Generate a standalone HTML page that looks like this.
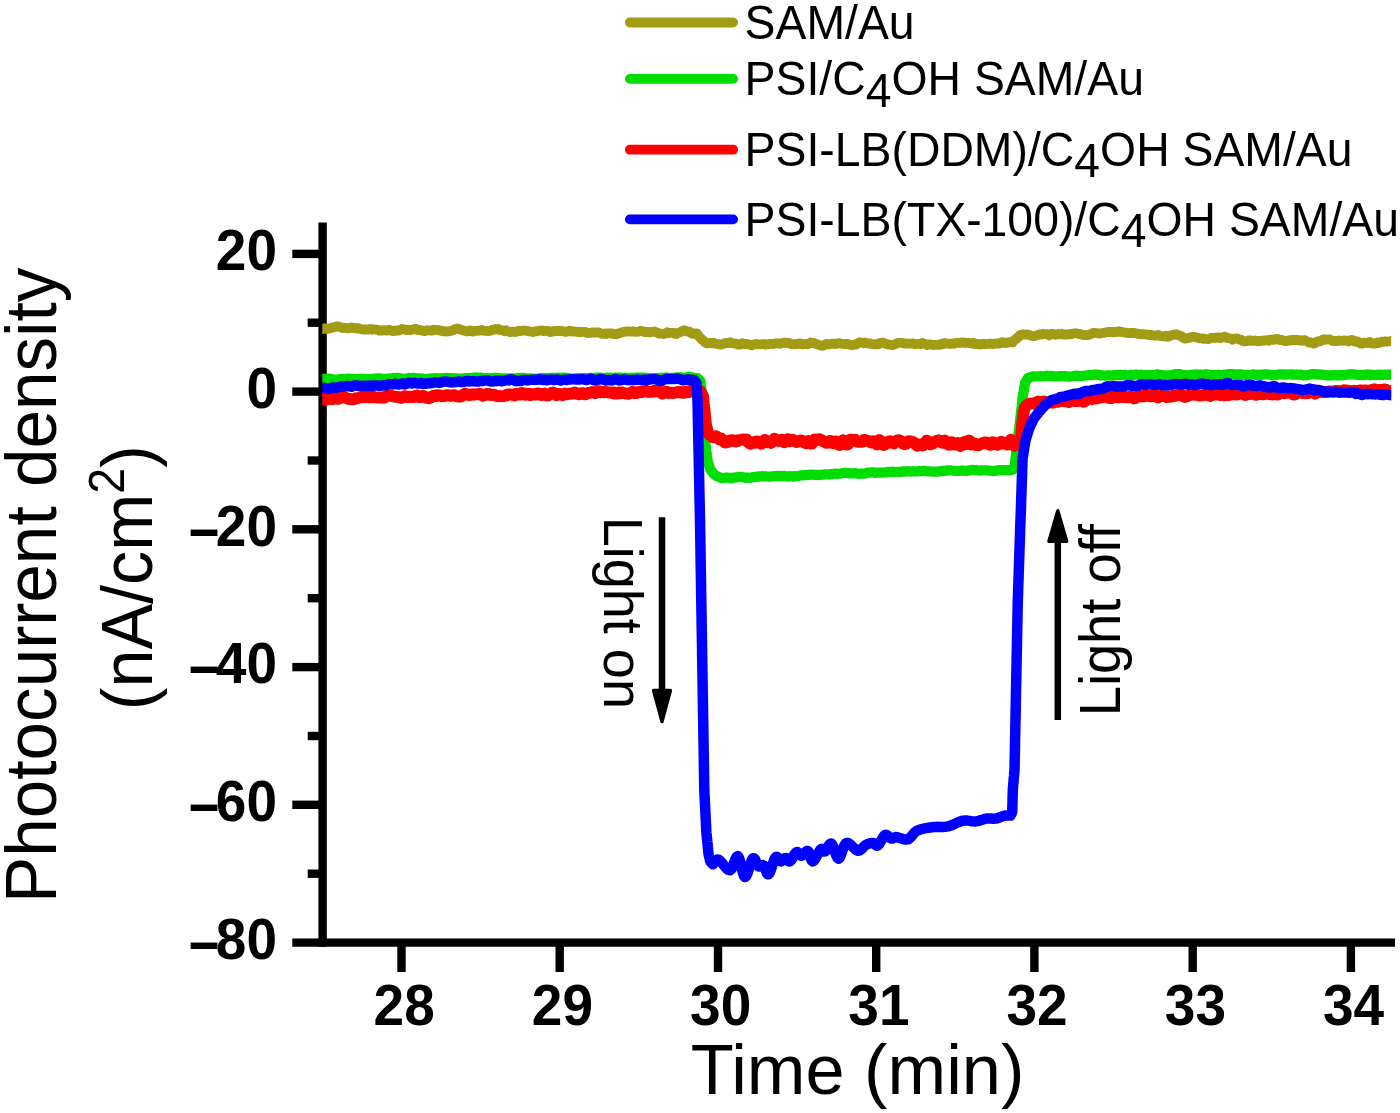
<!DOCTYPE html>
<html lang="en"><head><meta charset="utf-8"><title>Photocurrent density vs time</title>
<style>html,body{margin:0;padding:0;background:#fff}body{width:1400px;height:1113px;overflow:hidden}svg{display:block}text{font-family:"Liberation Sans",Arial,Helvetica,sans-serif;fill:#000}.b{font-weight:700;font-size:55px}.lg{font-size:46px}.ax{font-size:69px}.an{font-size:54px}</style></head><body>
<svg width="1400" height="1113" viewBox="0 0 1400 1113">
<rect width="1400" height="1113" fill="#fff"/>
<g stroke="#000" stroke-width="8.4" fill="none">
<line x1="322.6" y1="222.4" x2="322.6" y2="946.8"/>
<line x1="292.3" y1="942.6" x2="1395" y2="942.6"/>
<line x1="292.3" y1="253.9" x2="320" y2="253.9"/>
<line x1="292.3" y1="391.6" x2="320" y2="391.6"/>
<line x1="292.3" y1="529.3" x2="320" y2="529.3"/>
<line x1="292.3" y1="667.1" x2="320" y2="667.1"/>
<line x1="292.3" y1="804.8" x2="320" y2="804.8"/>
<line x1="307.7" y1="322.7" x2="320" y2="322.7"/>
<line x1="307.7" y1="460.5" x2="320" y2="460.5"/>
<line x1="307.7" y1="598.2" x2="320" y2="598.2"/>
<line x1="307.7" y1="736.0" x2="320" y2="736.0"/>
<line x1="307.7" y1="873.7" x2="320" y2="873.7"/>
<line x1="401.5" y1="940" x2="401.5" y2="972"/>
<line x1="559.7" y1="940" x2="559.7" y2="972"/>
<line x1="718.0" y1="940" x2="718.0" y2="972"/>
<line x1="876.2" y1="940" x2="876.2" y2="972"/>
<line x1="1034.4" y1="940" x2="1034.4" y2="972"/>
<line x1="1192.7" y1="940" x2="1192.7" y2="972"/>
<line x1="1350.9" y1="940" x2="1350.9" y2="972"/>
</g>
<defs><clipPath id="plotclip"><rect x="322.3" y="200" width="1068.9" height="730"/></clipPath></defs>
<g clip-path="url(#plotclip)" fill="none" stroke-linejoin="round" stroke-linecap="butt" stroke-width="10.5">
<polyline stroke="#a49b14" stroke-width="9.8" points="316.0,327.9 317.6,328.1 319.3,328.5 321.0,329.0 322.6,329.1 324.2,328.2 325.8,328.5 327.3,329.1 328.9,328.4 330.5,328.2 332.1,327.5 333.7,327.4 335.3,326.7 336.8,326.4 338.4,326.5 340.0,326.9 341.5,327.7 343.0,328.1 344.5,327.9 346.0,327.8 347.5,328.3 349.1,328.2 350.6,327.6 352.1,327.5 353.6,328.1 355.1,328.0 356.6,328.5 358.1,328.1 359.6,328.7 361.1,329.3 362.6,329.4 364.2,329.7 365.7,329.4 367.2,329.7 368.7,329.3 370.2,329.0 371.7,329.8 373.2,329.2 374.7,329.5 376.2,329.6 377.7,329.8 379.2,330.6 380.8,330.4 382.3,330.5 383.8,330.2 385.3,330.4 386.8,330.6 388.3,330.1 389.8,329.8 391.3,330.6 392.8,331.1 394.3,330.6 395.8,330.8 397.4,330.4 398.9,330.5 400.4,329.8 401.9,329.0 403.4,329.2 404.9,329.5 406.4,330.1 407.9,329.6 409.4,329.8 410.9,330.2 412.5,329.6 414.0,329.1 415.5,328.6 417.0,329.6 418.5,330.2 420.0,329.8 421.5,330.5 423.0,330.6 424.5,331.2 426.0,330.6 427.5,330.2 429.1,330.5 430.6,330.6 432.1,330.7 433.6,329.7 435.1,329.9 436.6,329.8 438.1,330.1 439.6,330.5 441.1,330.6 442.6,331.3 444.2,331.2 445.7,331.7 447.2,331.3 448.7,331.3 450.2,330.8 451.7,330.7 453.2,330.2 454.7,329.1 456.2,329.0 457.7,328.4 459.2,329.0 460.8,329.7 462.3,330.1 463.8,330.7 465.3,330.9 466.8,331.4 468.3,331.3 469.8,330.4 471.3,331.0 472.8,331.5 474.3,331.0 475.8,330.8 477.4,330.9 478.9,330.6 480.4,330.4 481.9,329.9 483.4,330.7 484.9,330.8 486.4,330.9 487.9,331.1 489.4,330.9 490.9,330.5 492.5,329.7 494.0,329.8 495.5,329.0 497.0,329.6 498.5,328.9 500.0,330.0 501.5,330.2 503.0,330.3 504.5,331.2 506.1,330.3 507.6,331.5 509.1,331.8 510.6,332.1 512.1,331.7 513.6,331.6 515.2,331.8 516.7,331.8 518.2,331.0 519.7,331.1 521.2,330.9 522.7,330.7 524.2,330.6 525.8,330.7 527.3,330.9 528.8,331.3 530.3,331.6 531.8,331.6 533.3,332.0 534.8,331.3 536.4,331.4 537.9,330.9 539.4,330.8 540.9,330.5 542.4,330.3 543.9,331.2 545.5,331.0 547.0,330.7 548.5,331.0 550.0,332.1 551.5,331.9 553.0,331.1 554.5,331.2 556.1,330.9 557.6,331.1 559.1,330.6 560.6,331.2 562.1,331.0 563.6,331.4 565.2,331.9 566.7,331.6 568.2,331.2 569.7,330.7 571.2,331.5 572.7,331.2 574.2,331.5 575.8,331.6 577.3,331.8 578.8,332.1 580.3,331.9 581.8,332.0 583.3,331.8 584.8,331.8 586.4,332.5 587.9,333.0 589.4,332.9 590.9,332.8 592.4,332.3 593.9,332.7 595.5,332.6 597.0,332.3 598.5,332.4 600.0,333.0 601.5,333.8 603.0,333.8 604.5,333.3 606.0,334.0 607.5,333.3 609.0,333.4 610.5,333.3 612.0,333.3 613.5,334.2 615.0,334.2 616.5,334.3 618.0,333.3 619.5,333.4 621.0,332.7 622.5,332.0 624.0,331.8 625.5,331.6 627.0,331.5 628.5,331.3 630.0,331.7 631.5,331.7 633.0,331.4 634.5,331.7 636.0,331.9 637.5,331.8 639.0,331.4 640.5,330.9 642.0,331.1 643.5,331.4 645.0,332.2 646.5,331.9 648.0,332.1 649.5,332.3 651.0,331.8 652.5,331.9 654.0,331.5 655.5,332.0 657.0,332.4 658.5,333.6 660.0,333.5 661.5,333.7 663.0,334.0 664.5,333.9 666.0,333.2 667.5,332.3 669.0,333.1 670.5,332.8 672.0,332.9 673.5,332.8 675.0,333.8 676.5,334.0 678.0,332.9 679.5,332.7 681.0,331.9 682.5,330.8 684.0,330.2 685.5,330.7 687.0,331.6 688.5,331.4 690.0,331.9 691.8,333.6 693.5,333.9 695.2,333.5 697.0,333.5 698.3,335.3 699.7,337.4 701.0,338.6 702.2,339.9 703.5,340.7 704.8,342.2 706.0,343.1 707.5,343.4 709.0,342.8 710.5,342.9 712.0,343.4 713.5,342.7 715.0,343.6 716.6,343.8 718.1,344.1 719.6,344.5 721.1,344.6 722.6,344.1 724.1,343.5 725.7,343.0 727.2,343.2 728.7,342.5 730.2,342.2 731.7,343.2 733.2,343.5 734.8,343.7 736.3,343.7 737.8,344.7 739.3,344.6 740.8,344.5 742.3,343.3 743.9,343.8 745.4,344.2 746.9,343.9 748.4,344.4 749.9,344.6 751.4,345.4 753.0,344.7 754.5,344.3 756.0,343.9 757.5,344.3 759.0,344.4 760.6,344.3 762.1,344.2 763.6,344.0 765.1,344.6 766.6,344.3 768.1,344.1 769.7,344.0 771.2,343.8 772.7,344.0 774.2,343.7 775.7,343.4 777.2,343.3 778.8,343.3 780.3,343.8 781.8,343.2 783.3,342.8 784.8,342.6 786.3,343.0 787.9,342.8 789.4,343.0 790.9,344.2 792.4,344.2 793.9,344.3 795.4,344.0 797.0,344.3 798.5,343.7 800.0,343.3 801.5,344.2 803.0,344.4 804.5,344.2 806.1,343.8 807.6,344.3 809.1,343.7 810.6,342.5 812.1,343.1 813.6,342.8 815.2,343.6 816.7,344.1 818.2,344.7 819.7,345.3 821.2,345.6 822.7,345.8 824.2,345.2 825.8,344.1 827.3,344.0 828.8,344.4 830.3,344.0 831.8,343.7 833.3,343.6 834.8,343.9 836.4,344.0 837.9,343.4 839.4,343.1 840.9,343.6 842.4,343.8 843.9,344.0 845.5,344.0 847.0,344.0 848.5,344.1 850.0,344.7 851.5,345.1 853.0,345.1 854.5,344.4 856.1,344.6 857.6,343.6 859.1,342.4 860.6,342.5 862.1,342.7 863.6,343.3 865.2,342.5 866.7,343.1 868.2,343.4 869.7,343.3 871.2,343.9 872.7,344.1 874.2,344.4 875.8,344.1 877.3,344.4 878.8,344.1 880.3,342.8 881.8,342.7 883.3,342.6 884.8,343.5 886.4,343.9 887.9,344.4 889.4,344.7 890.9,344.8 892.4,345.2 893.9,344.6 895.5,344.1 897.0,343.2 898.5,342.8 900.0,342.9 901.5,342.9 903.0,343.1 904.5,343.6 906.0,343.5 907.5,343.7 909.0,343.5 910.5,343.7 912.0,343.5 913.5,343.5 915.0,344.2 916.5,344.1 918.0,343.7 919.5,343.8 921.0,344.1 922.5,343.0 924.0,343.4 925.5,344.1 927.0,345.0 928.5,344.6 930.0,344.3 931.5,344.6 933.0,345.0 934.5,344.7 936.0,344.8 937.5,344.7 939.0,344.9 940.5,344.7 942.0,343.6 943.5,344.0 945.0,342.9 946.5,343.6 948.0,343.6 949.5,343.9 951.0,343.8 952.5,343.3 954.0,343.8 955.5,343.1 957.0,342.7 958.5,343.0 960.0,342.8 961.5,342.4 963.0,342.4 964.5,343.0 966.0,342.7 967.5,342.8 969.0,343.0 970.5,343.1 972.0,343.5 973.5,342.9 975.0,344.1 976.5,343.8 978.0,344.2 979.5,344.5 981.0,343.8 982.5,344.3 984.0,343.6 985.5,344.2 987.0,344.0 988.5,343.7 990.0,343.9 991.5,343.7 993.0,344.1 994.5,343.6 996.0,343.6 997.5,343.3 999.0,343.6 1000.5,343.2 1002.0,342.1 1003.5,342.4 1005.0,342.9 1006.5,343.0 1008.0,342.3 1009.7,342.2 1011.3,342.3 1013.0,342.3 1014.0,340.4 1015.0,339.6 1016.0,339.1 1017.3,337.7 1018.7,337.0 1020.0,335.1 1021.5,334.8 1023.0,334.2 1024.5,334.6 1026.0,334.6 1027.5,334.5 1029.1,334.9 1030.6,335.4 1032.2,336.1 1033.7,336.2 1035.3,335.9 1036.8,335.2 1038.4,334.8 1039.9,334.2 1041.5,334.5 1043.0,334.0 1044.5,334.1 1046.1,334.1 1047.6,334.4 1049.2,335.4 1050.7,334.0 1052.3,333.9 1053.8,333.9 1055.4,334.8 1056.9,334.5 1058.5,333.9 1060.0,334.4 1061.5,333.7 1063.1,334.6 1064.6,334.5 1066.2,334.7 1067.7,334.4 1069.2,334.2 1070.8,334.4 1072.3,333.8 1073.8,333.4 1075.4,333.4 1076.9,333.3 1078.5,333.9 1080.0,334.0 1081.5,334.4 1083.1,335.1 1084.6,335.1 1086.2,335.1 1087.7,335.1 1089.2,334.8 1090.8,334.0 1092.3,333.2 1093.8,332.8 1095.4,333.2 1096.9,333.2 1098.5,333.4 1100.0,333.6 1101.7,333.2 1103.3,333.0 1105.0,332.5 1106.7,332.2 1108.3,332.0 1110.0,331.9 1111.5,331.8 1113.0,332.3 1114.5,331.9 1116.0,332.0 1117.5,331.9 1119.0,331.1 1120.5,331.8 1122.0,331.9 1123.5,332.4 1125.0,332.6 1126.5,332.7 1128.0,333.2 1129.5,333.1 1131.0,332.9 1132.5,333.1 1134.0,332.9 1135.5,333.2 1137.0,333.7 1138.5,333.9 1140.0,334.0 1141.5,334.3 1143.0,334.2 1144.6,334.3 1146.1,334.4 1147.6,334.7 1149.1,335.1 1150.6,334.7 1152.1,335.3 1153.7,335.5 1155.2,335.6 1156.7,335.7 1158.2,335.0 1159.7,335.6 1161.2,336.2 1162.8,336.4 1164.3,336.4 1165.8,335.8 1167.3,336.9 1168.8,336.7 1170.3,335.3 1171.9,335.2 1173.4,334.6 1174.9,334.8 1176.4,334.2 1177.9,334.9 1179.4,335.8 1181.0,335.8 1182.5,337.2 1184.0,338.3 1185.5,338.6 1187.0,338.1 1188.6,337.9 1190.1,337.6 1191.6,337.1 1193.1,336.8 1194.6,336.9 1196.1,337.5 1197.7,337.8 1199.2,338.1 1200.7,338.3 1202.2,338.4 1203.7,338.9 1205.2,338.7 1206.8,339.0 1208.3,339.2 1209.8,338.7 1211.3,337.9 1212.8,337.8 1214.3,337.7 1215.9,338.0 1217.4,337.3 1218.9,337.6 1220.4,338.1 1221.9,337.6 1223.4,336.8 1225.0,336.7 1226.5,337.8 1228.0,338.1 1229.5,338.2 1231.0,338.5 1232.5,339.7 1234.0,338.8 1235.5,338.4 1237.0,338.5 1238.5,339.0 1240.0,339.7 1241.5,339.9 1243.0,341.1 1244.5,341.3 1246.0,341.4 1247.5,341.0 1249.0,340.3 1250.5,340.3 1252.0,340.9 1253.5,340.8 1255.0,340.5 1256.5,340.8 1258.0,341.4 1259.5,341.0 1261.0,340.9 1262.5,340.6 1264.0,340.6 1265.5,340.4 1267.0,340.2 1268.5,340.7 1270.0,339.6 1271.5,339.6 1273.0,339.8 1274.5,339.7 1276.0,338.8 1277.5,338.8 1279.0,339.6 1280.5,340.2 1282.0,339.9 1283.5,340.6 1285.0,341.1 1286.5,341.2 1288.0,340.7 1289.5,340.2 1291.0,340.5 1292.5,339.8 1294.0,340.2 1295.5,339.9 1297.0,339.9 1298.5,340.3 1300.0,340.1 1301.5,340.8 1303.0,340.3 1304.5,340.0 1306.1,340.9 1307.6,341.7 1309.1,342.7 1310.6,342.4 1312.1,342.7 1313.7,343.5 1315.2,343.0 1316.7,341.8 1318.2,341.1 1319.7,341.3 1321.2,340.9 1322.8,339.7 1324.3,339.2 1325.8,339.8 1327.3,339.5 1328.8,339.3 1330.3,339.7 1331.8,340.6 1333.4,341.1 1334.9,341.0 1336.4,341.0 1337.9,340.9 1339.4,340.5 1341.0,340.7 1342.5,340.8 1344.0,340.4 1345.5,340.6 1347.0,340.7 1348.5,341.4 1350.0,340.4 1351.6,340.0 1353.1,340.1 1354.6,341.3 1356.1,341.8 1357.6,341.5 1359.2,342.4 1360.7,343.6 1362.2,343.7 1363.7,342.6 1365.2,342.7 1366.7,342.9 1368.2,343.0 1369.8,342.0 1371.3,342.8 1372.8,343.7 1374.3,343.4 1375.8,343.5 1377.3,342.5 1378.9,343.0 1380.4,342.2 1381.9,341.7 1383.4,341.8 1384.9,341.4 1386.5,341.6 1388.0,341.5 1389.5,341.3 1391.0,341.0 1392.5,340.5 1394.0,340.6 1395.5,340.3 1397.0,340.7"/>
<polyline stroke="#00dd00" stroke-width="10.2" points="316.0,378.5 317.6,378.6 319.3,378.6 321.0,378.8 322.6,378.8 324.1,378.9 325.6,378.7 327.2,378.5 328.7,378.5 330.2,378.8 331.7,379.2 333.2,379.4 334.7,379.8 336.3,379.7 337.8,379.6 339.3,379.3 340.8,379.1 342.3,378.9 343.8,379.1 345.4,378.8 346.9,378.8 348.4,378.6 349.9,378.6 351.4,378.9 353.0,378.9 354.5,378.9 356.0,379.1 357.5,379.3 359.0,378.8 360.5,378.8 362.1,378.9 363.6,378.9 365.1,378.8 366.6,379.2 368.1,379.1 369.6,379.0 371.2,378.8 372.7,379.0 374.2,378.5 375.7,378.5 377.2,378.4 378.8,378.6 380.3,378.4 381.8,378.9 383.3,378.8 384.8,378.9 386.3,378.8 387.9,378.6 389.4,378.5 390.9,378.6 392.4,378.1 393.9,378.1 395.4,378.0 397.0,377.8 398.5,378.0 400.0,378.3 401.5,378.6 403.0,378.8 404.5,378.7 406.1,378.5 407.6,378.3 409.1,377.9 410.6,378.0 412.1,378.1 413.6,377.9 415.2,378.1 416.7,378.3 418.2,378.3 419.7,378.4 421.2,378.8 422.7,378.7 424.2,378.8 425.8,378.8 427.3,378.9 428.8,378.8 430.3,378.6 431.8,378.4 433.3,378.3 434.8,378.3 436.4,378.0 437.9,378.5 439.4,378.5 440.9,378.3 442.4,378.1 443.9,378.2 445.5,378.0 447.0,377.8 448.5,378.0 450.0,378.2 451.5,378.3 453.0,378.2 454.5,378.3 456.1,378.4 457.6,378.9 459.1,378.6 460.6,378.7 462.1,378.5 463.6,378.5 465.2,378.0 466.7,378.0 468.2,378.1 469.7,378.1 471.2,377.8 472.7,377.9 474.2,377.6 475.8,377.4 477.3,377.5 478.8,377.7 480.3,377.7 481.8,377.7 483.3,377.9 484.8,378.0 486.4,378.1 487.9,378.1 489.4,378.2 490.9,378.4 492.4,378.2 493.9,377.9 495.5,377.8 497.0,378.1 498.5,378.1 500.0,378.3 501.5,378.4 503.0,378.7 504.5,378.4 506.1,378.3 507.6,378.5 509.1,378.7 510.6,378.4 512.1,378.5 513.6,378.6 515.2,378.4 516.7,378.2 518.2,378.0 519.7,378.0 521.2,377.9 522.7,377.8 524.2,378.0 525.8,378.3 527.3,378.5 528.8,378.3 530.3,378.4 531.8,378.5 533.3,378.6 534.8,378.5 536.4,378.7 537.9,378.8 539.4,378.3 540.9,378.2 542.4,378.2 543.9,378.3 545.5,378.0 547.0,378.2 548.5,378.1 550.0,378.1 551.5,377.9 553.0,377.8 554.5,377.8 556.1,377.9 557.6,377.8 559.1,377.7 560.6,378.0 562.1,377.8 563.6,377.7 565.2,377.7 566.7,377.9 568.2,378.1 569.7,378.6 571.2,378.5 572.7,378.8 574.2,378.6 575.8,378.3 577.3,378.2 578.8,378.1 580.3,378.1 581.8,378.1 583.3,378.2 584.8,378.0 586.4,378.1 587.9,378.0 589.4,378.1 590.9,377.9 592.4,378.0 593.9,378.0 595.5,377.6 597.0,377.6 598.5,377.7 600.0,377.7 601.5,377.8 603.0,378.2 604.5,378.0 606.0,377.8 607.5,377.7 609.0,377.9 610.5,377.6 612.0,377.8 613.5,377.8 615.0,377.7 616.5,377.7 618.0,377.8 619.5,377.5 621.0,377.5 622.5,377.8 624.0,377.8 625.5,377.7 627.0,378.0 628.5,378.1 630.0,377.9 631.5,377.8 633.0,377.8 634.5,377.7 636.0,377.5 637.5,377.6 639.0,377.6 640.5,377.5 642.0,377.5 643.5,377.7 645.0,377.8 646.5,377.9 648.0,378.1 649.5,378.3 651.0,378.4 652.5,378.3 654.0,378.3 655.5,378.0 657.0,378.2 658.5,378.1 660.0,378.0 661.5,377.7 663.0,377.8 664.5,377.7 666.0,377.5 667.5,377.8 669.0,378.0 670.5,378.0 672.0,377.9 673.5,377.9 675.0,377.6 676.5,377.6 678.0,377.4 679.5,377.5 681.0,377.3 682.5,377.5 684.0,377.5 685.5,377.5 687.0,377.2 688.5,377.0 690.0,377.2 691.5,377.2 693.0,377.5 694.5,377.7 696.0,378.1 697.5,378.2 699.0,379.7 700.5,381.2 700.7,382.9 700.8,384.3 701.0,385.8 701.2,387.4 701.3,388.8 701.5,390.1 701.7,391.9 701.8,393.4 702.0,395.0 702.1,396.5 702.2,398.2 702.3,399.7 702.4,401.2 702.5,403.0 702.6,404.8 702.7,406.5 702.8,408.2 702.8,409.7 702.9,410.9 703.0,412.5 703.1,413.8 703.2,415.2 703.3,416.9 703.4,418.2 703.5,419.7 703.6,420.9 703.8,422.5 703.9,424.0 704.0,425.7 704.1,427.3 704.2,429.2 704.4,430.5 704.5,431.9 704.6,433.5 704.8,434.8 704.9,436.1 705.0,438.1 705.1,439.8 705.2,441.6 705.4,443.3 705.5,445.0 705.7,446.2 705.9,447.9 706.1,449.4 706.3,451.3 706.5,452.8 706.7,454.4 706.9,455.7 707.1,457.2 707.3,458.5 707.5,460.0 708.0,461.7 708.5,463.7 709.0,465.0 709.5,466.7 710.0,468.4 710.5,470.0 711.5,470.9 712.5,472.4 713.5,473.5 714.5,474.6 716.1,475.7 717.8,476.6 719.4,477.1 721.0,477.8 722.8,477.9 724.5,477.8 726.2,477.6 728.0,477.7 729.5,477.9 731.0,478.1 732.5,477.8 734.0,477.7 735.5,477.6 737.0,477.3 738.5,476.8 740.0,476.9 741.5,476.9 743.0,477.2 744.5,477.5 746.0,477.9 747.5,477.6 749.0,477.8 750.5,477.8 752.0,477.4 753.5,477.0 755.0,477.1 756.5,476.7 758.0,476.7 759.5,476.4 761.0,476.3 762.5,476.2 764.0,476.4 765.5,476.2 767.0,476.5 768.5,476.6 770.0,476.7 771.5,476.4 773.0,476.3 774.5,476.1 776.0,476.1 777.5,475.9 779.0,476.1 780.5,475.9 782.0,476.1 783.5,476.1 785.0,475.9 786.5,476.2 788.0,476.6 789.5,476.2 791.0,476.2 792.5,476.6 794.0,476.4 795.5,476.0 797.0,476.1 798.5,476.0 800.0,475.5 801.5,475.3 803.0,475.3 804.5,475.2 806.0,475.1 807.5,474.9 809.0,474.9 810.5,474.6 812.0,474.6 813.5,474.8 815.0,474.9 816.5,474.9 818.0,475.1 819.5,475.0 821.0,474.8 822.5,474.6 824.0,474.6 825.5,474.3 827.0,474.5 828.5,474.4 830.0,474.3 831.5,474.1 833.0,474.0 834.5,473.8 836.0,473.6 837.5,473.9 839.0,473.7 840.5,473.5 842.0,473.3 843.5,473.0 845.0,472.8 846.5,473.0 848.0,473.3 849.5,473.2 851.0,473.3 852.5,473.5 854.0,473.3 855.5,473.2 857.0,473.5 858.5,473.9 860.0,473.7 861.5,473.7 863.0,473.7 864.5,473.6 866.0,473.1 867.5,472.7 869.1,472.7 870.6,472.5 872.1,472.3 873.6,472.4 875.1,472.8 876.6,472.7 878.1,472.7 879.6,472.7 881.1,472.7 882.6,472.5 884.2,472.5 885.7,472.4 887.2,472.1 888.7,471.9 890.2,471.8 891.7,471.8 893.2,471.7 894.7,471.9 896.2,472.0 897.7,471.9 899.2,471.8 900.8,471.9 902.3,471.6 903.8,471.4 905.3,471.6 906.8,471.3 908.3,471.2 909.8,471.5 911.3,471.6 912.8,471.2 914.3,471.4 915.8,471.5 917.4,471.4 918.9,471.1 920.4,471.2 921.9,471.0 923.4,470.9 924.9,470.9 926.4,471.2 927.9,471.4 929.4,471.4 930.9,471.5 932.5,471.6 934.0,471.7 935.5,471.7 937.0,471.7 938.5,471.5 940.0,471.4 941.5,471.1 943.0,470.9 944.5,470.8 946.0,470.7 947.6,470.3 949.1,470.4 950.6,470.3 952.1,470.5 953.6,470.7 955.1,470.9 956.6,471.0 958.1,470.9 959.6,470.8 961.1,470.6 962.7,470.6 964.2,470.9 965.7,471.0 967.2,470.7 968.7,470.6 970.2,470.3 971.7,469.8 973.2,470.0 974.7,470.2 976.3,470.1 977.8,470.4 979.3,470.7 980.8,470.5 982.3,470.3 983.8,470.5 985.3,470.4 986.8,470.3 988.3,470.5 989.9,470.7 991.4,470.9 992.9,471.1 994.4,471.0 995.9,470.6 997.4,470.4 998.9,470.3 1000.4,470.0 1001.9,470.0 1003.4,470.2 1005.0,470.0 1006.5,470.2 1008.0,470.3 1009.5,470.2 1011.0,470.3 1012.8,469.6 1014.5,468.5 1014.7,466.4 1014.9,464.6 1015.1,462.8 1015.2,460.9 1015.4,459.2 1015.6,458.1 1015.8,456.5 1016.0,454.8 1016.2,453.7 1016.3,452.1 1016.5,450.3 1016.7,448.8 1016.9,447.5 1017.0,445.6 1017.2,444.3 1017.4,442.9 1017.6,441.2 1017.7,439.6 1017.9,438.3 1018.1,436.6 1018.3,435.2 1018.4,433.8 1018.6,432.6 1018.8,430.9 1019.0,429.7 1019.1,428.1 1019.3,426.6 1019.5,424.7 1019.7,423.5 1019.8,421.9 1020.0,420.4 1020.2,418.8 1020.4,417.1 1020.6,415.5 1020.8,413.8 1020.9,412.4 1021.1,411.0 1021.3,409.6 1021.5,408.2 1021.7,406.6 1021.9,404.6 1022.1,402.8 1022.2,400.9 1022.4,399.3 1022.6,397.6 1022.8,396.5 1023.0,395.2 1023.2,394.1 1023.5,392.5 1023.8,391.1 1024.0,389.4 1024.2,387.9 1024.5,386.1 1024.8,384.4 1025.0,382.9 1026.0,381.5 1027.0,379.6 1028.0,377.9 1029.7,377.4 1031.3,376.9 1033.0,376.2 1034.5,376.4 1036.0,376.5 1037.5,376.4 1039.0,376.5 1040.5,376.2 1042.0,376.3 1043.5,376.2 1045.0,376.0 1046.5,375.7 1048.0,375.8 1049.5,376.0 1051.0,375.9 1052.5,376.3 1054.0,376.2 1055.5,376.4 1057.0,376.4 1058.5,376.3 1060.0,376.2 1061.5,376.2 1063.0,376.1 1064.5,376.2 1066.1,376.3 1067.6,376.5 1069.1,376.8 1070.6,376.5 1072.1,376.3 1073.6,376.0 1075.2,375.7 1076.7,375.7 1078.2,375.9 1079.7,375.8 1081.2,376.0 1082.7,375.9 1084.2,375.7 1085.8,375.5 1087.3,375.3 1088.8,375.1 1090.3,375.0 1091.8,375.1 1093.3,374.8 1094.8,374.7 1096.4,374.6 1097.9,374.8 1099.4,374.9 1100.9,375.5 1102.4,375.4 1103.9,375.5 1105.5,375.6 1107.0,375.5 1108.5,375.2 1110.0,375.6 1111.5,375.6 1113.0,375.3 1114.5,375.1 1116.1,375.2 1117.6,375.0 1119.1,374.8 1120.6,374.8 1122.1,375.1 1123.6,375.1 1125.2,374.9 1126.7,375.2 1128.2,375.4 1129.7,375.1 1131.2,374.9 1132.7,375.1 1134.2,374.9 1135.8,374.5 1137.3,374.7 1138.8,374.8 1140.3,374.9 1141.8,374.7 1143.3,375.4 1144.8,375.2 1146.4,375.2 1147.9,375.2 1149.4,375.6 1150.9,375.2 1152.4,375.2 1153.9,375.1 1155.5,374.8 1157.0,374.3 1158.5,374.7 1160.0,374.9 1161.5,375.1 1163.0,375.1 1164.5,375.6 1166.0,375.5 1167.5,375.6 1169.0,375.3 1170.5,375.3 1172.0,375.0 1173.5,374.5 1175.0,374.0 1176.5,374.0 1178.0,374.1 1179.5,374.1 1181.0,374.4 1182.5,374.9 1184.0,375.1 1185.5,375.2 1187.0,375.4 1188.5,375.3 1190.0,375.0 1191.5,374.9 1193.0,374.7 1194.5,374.5 1196.0,374.4 1197.5,374.5 1199.0,374.6 1200.5,374.7 1202.0,374.7 1203.5,374.8 1205.0,374.6 1206.5,374.2 1208.0,374.5 1209.5,374.8 1211.0,375.0 1212.5,375.1 1214.0,375.4 1215.5,375.1 1217.0,374.9 1218.5,374.9 1220.0,375.0 1221.5,375.0 1223.0,374.9 1224.5,374.8 1226.0,374.5 1227.5,374.4 1229.0,374.1 1230.5,374.1 1232.0,374.1 1233.5,374.3 1235.0,374.5 1236.5,374.4 1238.0,374.4 1239.5,374.4 1241.0,374.4 1242.5,374.6 1244.0,375.0 1245.5,375.0 1247.0,375.4 1248.5,375.0 1250.0,375.0 1251.5,374.8 1253.0,374.4 1254.5,374.6 1256.0,375.0 1257.5,374.7 1259.0,374.8 1260.5,375.2 1262.0,374.8 1263.5,374.4 1265.0,374.4 1266.5,374.4 1268.0,374.5 1269.5,374.7 1271.0,374.9 1272.5,375.3 1274.0,375.2 1275.5,375.2 1277.0,374.7 1278.5,374.5 1280.0,374.4 1281.5,374.3 1283.0,374.4 1284.5,374.6 1286.0,374.7 1287.5,374.4 1289.0,374.5 1290.5,374.3 1292.0,374.4 1293.5,374.7 1295.0,374.7 1296.5,374.6 1298.0,374.7 1299.5,374.6 1301.0,374.6 1302.5,375.1 1304.0,375.4 1305.5,375.3 1307.0,375.3 1308.5,375.0 1310.0,374.5 1311.5,374.2 1313.0,374.2 1314.5,374.1 1316.0,374.4 1317.5,374.4 1319.0,374.6 1320.5,374.4 1322.0,374.7 1323.5,374.7 1325.0,375.0 1326.5,375.2 1328.0,375.6 1329.5,375.3 1331.0,375.3 1332.5,375.4 1334.0,375.1 1335.5,375.1 1337.0,375.4 1338.5,375.3 1340.0,375.1 1341.5,375.4 1343.0,375.1 1344.5,375.0 1346.0,374.8 1347.5,374.6 1349.0,374.3 1350.5,374.4 1352.0,374.3 1353.5,374.5 1355.0,374.4 1356.5,374.8 1358.0,375.0 1359.5,375.1 1361.0,374.9 1362.5,375.1 1364.0,374.9 1365.5,374.8 1367.0,374.4 1368.5,374.6 1370.0,375.1 1371.5,374.7 1373.0,374.8 1374.5,375.1 1376.0,375.0 1377.5,374.7 1379.0,374.8 1380.5,374.7 1382.0,374.9 1383.5,374.8 1385.0,374.6 1386.5,374.8 1388.0,374.7 1389.5,374.7 1391.0,374.6 1392.5,374.8 1394.0,374.6 1395.5,374.7 1397.0,374.5"/>
<polyline stroke="#ff0000" stroke-width="11.8" points="316.0,398.3 317.3,398.9 318.6,400.2 320.0,399.6 321.3,399.1 322.6,398.3 323.8,398.7 325.0,399.6 326.2,399.6 327.4,399.0 328.6,398.4 329.9,398.1 331.1,399.0 332.3,399.1 333.5,398.8 334.7,397.6 335.9,397.9 337.1,398.7 338.3,398.9 339.5,398.2 340.7,397.8 342.0,397.1 343.2,396.7 344.4,397.1 345.6,397.6 346.8,398.4 348.0,398.6 349.2,399.2 350.4,399.0 351.6,399.4 352.8,399.4 354.0,399.2 355.3,398.4 356.5,398.3 357.7,398.0 358.9,397.7 360.1,397.4 361.3,396.8 362.5,396.6 363.7,396.6 364.9,397.3 366.1,396.5 367.3,396.5 368.6,396.6 369.8,397.5 371.0,397.1 372.2,397.4 373.4,396.7 374.6,397.1 375.8,397.4 377.0,397.7 378.2,397.5 379.4,397.4 380.6,397.5 381.9,397.6 383.1,397.1 384.3,397.8 385.5,396.8 386.7,396.3 387.9,395.3 389.1,395.8 390.3,395.8 391.5,395.8 392.7,396.5 394.0,396.4 395.2,396.9 396.4,396.9 397.6,396.9 398.8,396.9 400.0,397.5 401.2,398.0 402.4,397.6 403.6,396.7 404.8,396.1 406.0,396.5 407.2,397.0 408.4,397.0 409.6,396.7 410.8,396.8 412.0,397.0 413.3,397.1 414.5,396.1 415.7,395.9 416.9,395.5 418.1,397.0 419.3,397.2 420.5,397.2 421.7,395.8 422.9,395.9 424.1,396.5 425.3,396.8 426.5,397.9 427.7,397.6 428.9,398.2 430.1,397.3 431.3,397.5 432.5,396.1 433.7,395.9 434.9,395.5 436.1,396.1 437.3,395.1 438.6,395.5 439.8,395.4 441.0,396.2 442.2,395.6 443.4,395.7 444.6,396.1 445.8,395.6 447.0,395.2 448.2,395.1 449.4,395.8 450.6,396.0 451.8,395.6 453.0,395.1 454.2,395.2 455.4,396.0 456.6,395.9 457.8,396.6 459.0,396.4 460.2,396.7 461.4,396.3 462.7,395.2 463.9,394.6 465.1,393.6 466.3,394.0 467.5,394.7 468.7,395.0 469.9,395.2 471.1,394.4 472.3,394.8 473.5,394.1 474.7,394.7 475.9,394.3 477.1,394.4 478.3,394.0 479.5,393.7 480.7,394.2 481.9,395.2 483.1,395.9 484.3,395.4 485.5,394.7 486.7,394.0 488.0,394.6 489.2,394.0 490.4,395.0 491.6,394.6 492.8,395.1 494.0,394.7 495.2,395.4 496.4,395.9 497.6,396.2 498.8,395.8 500.0,396.2 501.2,396.2 502.4,396.1 503.6,396.2 504.8,395.6 506.0,395.7 507.2,394.5 508.4,394.3 509.6,394.6 510.8,394.4 512.0,394.8 513.3,394.6 514.5,395.3 515.7,393.9 516.9,393.7 518.1,393.8 519.3,394.5 520.5,394.6 521.7,393.1 522.9,393.8 524.1,393.4 525.3,394.9 526.5,393.7 527.7,394.3 528.9,393.8 530.1,395.0 531.3,394.2 532.5,394.0 533.7,394.7 534.9,394.7 536.1,394.6 537.3,393.4 538.6,393.3 539.8,394.2 541.0,395.1 542.2,395.2 543.4,393.8 544.6,393.5 545.8,394.3 547.0,395.5 548.2,395.5 549.4,394.5 550.6,394.0 551.8,392.8 553.0,392.5 554.2,393.0 555.4,393.4 556.6,395.1 557.8,394.6 559.0,394.6 560.2,393.9 561.4,394.7 562.7,395.2 563.9,394.2 565.1,393.5 566.3,393.9 567.5,394.3 568.7,393.7 569.9,393.5 571.1,393.8 572.3,393.6 573.5,392.9 574.7,392.4 575.9,393.1 577.1,393.3 578.3,394.2 579.5,394.4 580.7,393.5 581.9,393.1 583.1,393.2 584.3,394.2 585.5,394.4 586.7,393.7 588.0,393.0 589.2,392.9 590.4,392.7 591.6,392.1 592.8,392.1 594.0,392.2 595.2,393.1 596.4,391.9 597.6,391.6 598.8,391.2 600.0,391.6 601.2,392.4 602.4,391.9 603.6,392.4 604.8,391.6 606.0,392.2 607.2,392.1 608.4,392.6 609.6,392.4 610.8,392.9 612.0,392.5 613.2,393.4 614.4,392.5 615.6,393.6 616.8,393.3 618.0,393.6 619.2,392.6 620.4,393.3 621.6,392.4 622.8,392.6 624.0,392.9 625.2,393.4 626.4,393.6 627.6,393.8 628.8,393.8 630.0,393.3 631.2,392.6 632.4,391.8 633.6,392.7 634.8,392.9 636.0,393.2 637.2,392.3 638.4,391.8 639.6,392.1 640.8,391.9 642.0,392.1 643.2,391.1 644.4,391.3 645.6,390.8 646.8,391.6 648.0,392.0 649.2,391.6 650.4,391.9 651.6,391.7 652.8,391.9 654.0,391.0 655.2,390.5 656.4,390.9 657.6,391.1 658.8,391.7 660.0,392.0 661.2,392.9 662.4,393.6 663.6,393.0 664.8,391.9 666.0,391.7 667.2,391.9 668.4,393.0 669.6,392.5 670.8,392.9 672.0,392.7 673.2,393.0 674.4,392.7 675.6,392.4 676.8,392.2 678.0,392.0 679.2,392.3 680.4,391.9 681.6,392.6 682.8,392.1 684.0,392.8 685.2,391.9 686.4,391.8 687.6,392.3 688.8,392.1 690.0,391.6 691.3,390.3 692.6,390.3 693.9,391.9 695.2,392.4 696.6,393.0 697.9,391.5 699.2,391.4 700.5,391.4 701.1,392.5 701.8,393.7 702.4,394.9 703.0,396.0 703.1,397.3 703.3,398.5 703.4,399.8 703.5,401.1 703.7,402.4 703.8,403.6 704.0,404.9 704.1,406.2 704.2,407.5 704.4,408.7 704.5,410.0 704.6,411.2 704.8,412.5 704.9,413.8 705.0,415.0 705.1,416.2 705.2,417.5 705.4,418.8 705.5,420.0 705.6,421.2 705.8,422.5 705.9,423.8 706.0,425.0 706.4,426.3 706.7,427.6 707.1,428.9 707.4,430.1 707.8,431.4 708.1,432.7 708.5,434.0 709.5,434.8 710.5,435.6 711.5,436.4 712.5,437.1 713.5,437.4 714.8,437.1 716.0,436.2 717.2,437.0 718.5,437.9 719.8,439.7 721.0,438.3 722.2,439.4 723.5,440.2 724.8,442.4 726.0,442.6 727.2,441.9 728.4,441.8 729.6,440.4 730.9,440.8 732.1,440.1 733.3,440.3 734.5,441.3 735.7,441.5 736.9,441.4 738.1,440.2 739.3,440.4 740.6,439.8 741.8,439.7 743.0,439.3 744.2,439.6 745.4,440.0 746.6,439.5 747.8,441.7 749.0,443.0 750.3,443.9 751.5,442.2 752.7,442.9 753.9,442.8 755.1,442.8 756.3,441.3 757.5,441.3 758.8,442.6 760.0,442.3 761.2,443.8 762.4,441.9 763.6,442.5 764.8,439.9 766.0,442.2 767.2,441.4 768.5,442.2 769.7,441.5 770.9,442.8 772.1,442.0 773.3,440.9 774.5,438.7 775.7,439.7 777.0,440.0 778.2,440.9 779.4,440.2 780.6,440.0 781.8,439.7 783.0,440.7 784.2,442.4 785.4,441.4 786.7,440.8 787.9,439.2 789.1,441.3 790.3,440.6 791.5,440.8 792.7,439.6 793.9,441.0 795.1,441.2 796.4,442.0 797.6,441.7 798.8,441.4 800.0,440.3 801.2,440.5 802.4,440.9 803.6,442.2 804.8,442.5 806.0,443.3 807.2,442.5 808.4,441.0 809.6,441.3 810.8,443.5 812.0,443.5 813.2,441.2 814.4,439.4 815.6,439.7 816.8,439.3 818.0,439.9 819.2,439.2 820.4,439.6 821.6,440.3 822.8,440.9 824.0,441.8 825.2,441.6 826.4,442.9 827.6,442.7 828.8,442.2 830.0,440.8 831.2,442.6 832.4,443.1 833.6,442.9 834.8,441.4 836.0,441.5 837.2,442.8 838.4,444.4 839.6,445.0 840.8,444.1 842.0,442.5 843.2,440.2 844.4,440.9 845.6,441.1 846.8,444.5 848.0,444.4 849.2,442.5 850.4,439.6 851.6,439.7 852.8,440.4 854.0,440.2 855.2,439.8 856.4,441.2 857.6,441.8 858.8,441.4 860.0,441.8 861.2,441.5 862.4,441.8 863.6,440.0 864.8,439.8 866.1,440.8 867.3,440.6 868.5,441.2 869.7,441.3 870.9,442.4 872.1,442.6 873.3,441.1 874.5,442.6 875.8,443.3 877.0,444.5 878.2,441.9 879.4,440.1 880.6,440.7 881.8,443.7 883.0,444.8 884.2,445.1 885.5,443.1 886.7,442.7 887.9,441.7 889.1,442.6 890.3,441.4 891.5,442.3 892.7,443.0 893.9,443.4 895.2,441.4 896.4,440.6 897.6,441.1 898.8,440.2 900.0,440.6 901.2,441.3 902.4,442.9 903.6,444.1 904.8,444.1 906.1,443.9 907.3,442.2 908.5,441.2 909.7,441.2 910.9,441.4 912.1,441.9 913.3,442.1 914.5,443.2 915.8,444.5 917.0,445.6 918.2,444.6 919.4,444.3 920.6,444.9 921.8,444.4 923.0,445.6 924.2,443.6 925.5,443.4 926.7,440.6 927.9,441.2 929.1,441.8 930.3,444.3 931.5,444.0 932.7,443.6 933.9,442.1 935.2,442.0 936.4,441.0 937.6,441.4 938.8,440.5 940.0,441.7 941.2,441.6 942.4,442.6 943.6,441.6 944.8,440.4 946.0,442.6 947.2,442.3 948.4,444.8 949.6,443.7 950.8,444.6 952.0,442.3 953.2,442.6 954.4,444.4 955.6,444.6 956.8,443.5 958.0,442.9 959.2,444.0 960.4,446.0 961.6,444.6 962.8,444.8 964.0,442.0 965.2,444.3 966.4,443.2 967.6,442.4 968.8,440.5 970.0,441.0 971.2,444.5 972.4,444.3 973.6,444.5 974.8,443.3 976.0,445.0 977.2,444.9 978.4,445.3 979.6,444.4 980.8,444.2 982.0,443.4 983.2,443.0 984.4,442.5 985.6,443.5 986.8,442.3 988.0,444.0 989.2,443.8 990.4,444.9 991.6,443.3 992.8,442.3 994.0,442.8 995.2,444.1 996.4,444.5 997.6,444.9 998.8,443.8 1000.0,443.8 1001.2,441.6 1002.4,442.8 1003.6,442.7 1004.8,443.7 1006.0,444.0 1007.2,444.5 1008.4,442.4 1009.6,441.5 1010.8,439.7 1012.0,443.0 1013.2,445.1 1014.4,445.9 1015.6,445.0 1016.8,443.3 1018.0,443.3 1019.0,442.2 1020.0,441.1 1021.0,440.0 1021.1,438.8 1021.2,437.5 1021.3,436.2 1021.4,435.0 1021.5,433.8 1021.6,432.5 1021.7,431.2 1021.8,430.0 1021.8,428.8 1021.9,427.5 1022.0,426.2 1022.1,425.0 1022.2,423.8 1022.3,422.5 1022.4,421.2 1022.5,420.0 1022.7,418.8 1022.9,417.6 1023.1,416.4 1023.3,415.2 1023.5,414.0 1023.7,412.8 1023.9,411.6 1024.1,410.4 1024.3,409.2 1024.5,408.0 1025.4,407.0 1026.2,406.0 1027.1,405.0 1028.0,404.0 1029.2,403.8 1030.5,403.5 1031.8,403.7 1033.0,403.4 1034.2,403.8 1035.5,403.1 1036.8,402.2 1038.0,401.5 1039.2,401.7 1040.5,402.2 1041.8,401.6 1043.0,401.6 1044.2,401.4 1045.5,402.1 1046.7,402.1 1047.9,402.5 1049.2,402.4 1050.4,402.6 1051.6,402.2 1052.9,402.7 1054.1,401.7 1055.3,401.9 1056.6,401.2 1057.8,401.8 1059.0,400.9 1060.3,400.3 1061.5,400.3 1062.7,400.4 1064.0,401.3 1065.2,400.9 1066.4,401.7 1067.7,401.6 1068.9,402.1 1070.1,401.2 1071.4,400.8 1072.6,400.5 1073.8,400.6 1075.1,400.9 1076.3,401.2 1077.5,400.9 1078.8,400.8 1080.0,400.5 1081.2,400.9 1082.5,401.4 1083.8,401.8 1085.0,401.3 1086.2,399.7 1087.5,398.7 1088.8,397.9 1090.0,398.6 1091.2,398.6 1092.5,399.0 1093.8,398.2 1095.0,398.3 1096.2,398.6 1097.5,398.3 1098.8,397.9 1100.0,396.8 1101.2,397.4 1102.4,397.1 1103.6,396.9 1104.8,396.0 1106.1,395.9 1107.3,396.4 1108.5,397.9 1109.7,398.0 1110.9,398.2 1112.1,397.3 1113.3,397.2 1114.5,396.7 1115.7,396.5 1117.0,396.6 1118.2,397.4 1119.4,396.8 1120.6,397.2 1121.8,396.5 1123.0,397.0 1124.2,396.9 1125.4,397.0 1126.6,397.3 1127.9,397.4 1129.1,397.3 1130.3,396.4 1131.5,396.8 1132.7,397.4 1133.9,398.5 1135.1,398.3 1136.3,396.8 1137.5,396.4 1138.8,395.7 1140.0,395.9 1141.2,396.3 1142.4,396.3 1143.6,396.4 1144.8,395.3 1146.0,395.5 1147.2,395.6 1148.5,396.0 1149.7,395.8 1150.9,396.4 1152.1,396.2 1153.3,396.1 1154.5,395.0 1155.7,395.9 1156.9,397.1 1158.1,397.5 1159.4,396.7 1160.6,395.7 1161.8,396.0 1163.0,395.9 1164.2,396.5 1165.4,396.7 1166.6,397.0 1167.8,396.7 1169.0,396.4 1170.3,396.9 1171.5,396.2 1172.7,396.4 1173.9,395.6 1175.1,395.7 1176.3,395.2 1177.5,395.3 1178.7,395.2 1179.9,394.5 1181.2,394.2 1182.4,395.1 1183.6,396.4 1184.8,397.0 1186.0,396.8 1187.2,395.9 1188.4,395.6 1189.6,395.2 1190.8,395.0 1192.0,394.6 1193.2,394.5 1194.5,394.8 1195.7,394.7 1196.9,394.8 1198.1,394.8 1199.3,395.6 1200.5,395.4 1201.7,395.4 1202.9,395.0 1204.1,395.0 1205.3,394.8 1206.5,394.6 1207.7,394.9 1208.9,395.4 1210.2,396.0 1211.4,395.1 1212.6,394.6 1213.8,394.0 1215.0,394.7 1216.2,394.6 1217.4,394.6 1218.6,394.8 1219.8,395.0 1221.0,394.7 1222.2,394.9 1223.4,395.2 1224.6,395.4 1225.8,395.2 1227.1,394.5 1228.3,395.1 1229.5,394.7 1230.7,394.7 1231.9,394.1 1233.1,393.8 1234.3,394.2 1235.5,394.4 1236.7,394.7 1237.9,394.4 1239.1,392.9 1240.3,392.9 1241.5,392.4 1242.8,393.8 1244.0,394.2 1245.2,395.0 1246.4,394.7 1247.6,394.2 1248.8,394.1 1250.0,394.0 1251.2,393.8 1252.4,393.4 1253.6,394.1 1254.8,394.2 1256.0,394.9 1257.2,394.3 1258.4,394.3 1259.7,393.8 1260.9,394.1 1262.1,394.3 1263.3,394.4 1264.5,394.0 1265.7,393.3 1266.9,393.8 1268.1,393.9 1269.3,394.1 1270.5,394.0 1271.7,394.4 1272.9,394.7 1274.1,394.0 1275.3,394.4 1276.6,394.3 1277.8,394.6 1279.0,393.6 1280.2,392.9 1281.4,392.2 1282.6,392.3 1283.8,393.0 1285.0,393.4 1286.2,392.7 1287.4,392.0 1288.6,391.9 1289.8,391.8 1291.0,392.6 1292.2,393.1 1293.4,394.7 1294.7,394.7 1295.9,394.0 1297.1,392.5 1298.3,390.8 1299.5,390.8 1300.7,391.0 1301.9,392.7 1303.1,393.1 1304.3,393.3 1305.5,393.0 1306.7,393.0 1307.9,393.3 1309.1,392.8 1310.3,392.3 1311.6,391.2 1312.8,392.2 1314.0,392.8 1315.2,393.6 1316.4,392.4 1317.6,392.0 1318.8,391.6 1320.0,392.0 1321.2,391.8 1322.4,392.1 1323.6,391.9 1324.8,392.2 1326.0,392.1 1327.2,392.1 1328.4,391.7 1329.6,391.4 1330.8,391.8 1332.0,391.7 1333.2,391.9 1334.4,391.5 1335.6,391.0 1336.8,391.2 1338.1,390.9 1339.3,391.7 1340.5,391.4 1341.7,391.2 1342.9,390.5 1344.1,390.1 1345.3,390.4 1346.5,390.3 1347.7,390.7 1348.9,390.9 1350.1,391.5 1351.3,391.0 1352.5,391.2 1353.7,390.7 1354.9,390.8 1356.1,390.9 1357.3,391.2 1358.5,391.0 1359.7,390.3 1360.9,390.3 1362.1,390.6 1363.3,390.9 1364.5,390.5 1365.7,390.5 1366.9,391.5 1368.1,391.7 1369.3,391.6 1370.5,390.7 1371.7,389.8 1372.9,389.7 1374.2,389.3 1375.4,390.7 1376.6,390.6 1377.8,390.5 1379.0,389.9 1380.2,390.0 1381.4,390.0 1382.6,390.1 1383.8,389.5 1385.0,389.5 1386.2,389.8 1387.4,391.1 1388.6,391.4 1389.8,391.2 1391.0,390.8 1392.2,390.9 1393.4,391.4 1394.6,391.4 1395.8,390.9 1397.0,390.4"/>
<polyline stroke="#0000ff" points="316.0,386.9 317.6,387.5 319.3,387.6 321.0,387.6 322.6,387.7 324.1,387.9 325.6,388.3 327.2,388.5 328.7,388.7 330.2,388.3 331.7,388.0 333.2,387.5 334.7,387.9 336.3,387.8 337.8,387.4 339.3,387.0 340.8,386.4 342.3,386.4 343.8,386.4 345.4,386.2 346.9,386.0 348.4,386.1 349.9,386.4 351.4,386.8 353.0,386.0 354.5,385.7 356.0,385.3 357.5,385.8 359.0,385.8 360.5,386.1 362.1,386.0 363.6,386.1 365.1,385.8 366.6,385.9 368.1,385.7 369.6,386.0 371.2,385.8 372.7,385.9 374.2,385.5 375.7,385.5 377.2,385.6 378.8,385.8 380.3,385.7 381.8,385.6 383.3,385.3 384.8,385.4 386.3,385.1 387.9,384.4 389.4,384.3 390.9,384.3 392.4,384.5 393.9,384.0 395.4,383.6 397.0,384.4 398.5,384.6 400.0,384.3 401.5,383.8 403.0,383.5 404.5,384.4 406.1,383.9 407.6,383.3 409.1,382.7 410.6,382.9 412.1,383.4 413.6,382.7 415.2,382.8 416.7,383.4 418.2,383.4 419.7,383.5 421.2,382.8 422.7,384.0 424.2,383.7 425.8,383.8 427.3,383.4 428.8,383.3 430.3,383.2 431.8,383.0 433.3,382.7 434.8,382.3 436.4,382.6 437.9,382.6 439.4,382.9 440.9,382.3 442.4,381.9 443.9,381.6 445.5,381.3 447.0,381.6 448.5,381.9 450.0,382.3 451.5,382.3 453.0,382.4 454.5,382.2 456.1,381.9 457.6,381.8 459.1,381.3 460.6,381.9 462.1,381.9 463.6,382.1 465.2,381.3 466.7,381.2 468.2,380.9 469.7,381.4 471.2,381.3 472.7,381.2 474.2,381.3 475.8,381.4 477.3,381.4 478.8,381.5 480.3,381.1 481.8,381.1 483.3,380.8 484.8,380.6 486.4,380.5 487.9,380.4 489.4,381.0 490.9,381.5 492.4,381.4 493.9,381.3 495.5,380.8 497.0,381.0 498.5,380.7 500.0,380.7 501.5,381.3 503.0,381.1 504.5,380.7 506.1,380.3 507.6,380.1 509.1,380.4 510.6,379.1 512.1,379.5 513.6,379.8 515.2,380.9 516.7,380.9 518.2,381.1 519.7,380.9 521.2,380.9 522.7,380.1 524.2,380.0 525.8,380.1 527.3,380.4 528.8,380.1 530.3,379.9 531.8,379.7 533.3,379.8 534.8,379.8 536.4,379.7 537.9,379.5 539.4,379.1 540.9,379.7 542.4,379.7 543.9,380.0 545.5,379.7 547.0,380.3 548.5,379.9 550.0,379.6 551.5,379.4 553.0,380.0 554.5,379.9 556.1,379.5 557.6,379.6 559.1,380.0 560.6,380.5 562.1,380.0 563.6,379.8 565.2,379.7 566.7,380.1 568.2,379.6 569.7,379.6 571.2,379.3 572.7,379.3 574.2,379.3 575.8,379.4 577.3,379.6 578.8,379.6 580.3,379.2 581.8,379.3 583.3,379.3 584.8,379.7 586.4,380.0 587.9,379.6 589.4,379.0 590.9,378.8 592.4,379.2 593.9,380.3 595.5,380.4 597.0,380.0 598.5,379.6 600.0,379.1 601.5,379.0 603.0,379.5 604.6,379.8 606.1,380.5 607.6,379.9 609.1,380.3 610.6,380.2 612.1,380.4 613.7,379.6 615.2,379.1 616.7,379.2 618.2,379.9 619.7,380.4 621.2,380.1 622.8,379.7 624.3,379.4 625.8,379.8 627.3,379.9 628.8,380.2 630.3,379.9 631.9,380.0 633.4,380.0 634.9,380.1 636.4,379.5 637.9,379.5 639.4,379.9 641.0,380.1 642.5,379.9 644.0,379.6 645.5,380.0 647.0,380.2 648.6,379.5 650.1,379.4 651.6,378.9 653.1,379.1 654.6,379.1 656.1,379.4 657.7,379.8 659.2,380.6 660.7,380.9 662.2,380.9 663.7,379.7 665.2,379.3 666.8,378.8 668.3,378.9 669.8,378.8 671.3,378.9 672.8,379.0 674.3,379.0 675.9,378.8 677.4,378.5 678.9,378.9 680.4,379.3 681.9,380.0 683.4,380.2 685.0,380.1 686.5,380.0 688.0,379.3 689.5,380.1 691.0,379.8 692.5,379.9 694.0,380.0 695.2,381.5 696.5,383.0 696.6,384.5 696.7,386.1 696.8,387.6 696.9,389.2 697.0,390.7 697.0,392.3 697.1,393.8 697.2,395.4 697.3,396.9 697.4,398.5 697.5,400.0 697.5,401.5 697.6,403.0 697.6,404.5 697.6,406.0 697.7,407.5 697.7,409.0 697.7,410.5 697.8,412.0 697.8,413.5 697.8,415.0 697.8,416.5 697.9,418.0 697.9,419.5 697.9,421.0 698.0,422.5 698.0,424.0 698.0,425.5 698.1,427.0 698.1,428.5 698.1,430.0 698.2,431.5 698.2,433.0 698.2,434.5 698.2,436.0 698.3,437.5 698.3,439.0 698.3,440.5 698.4,442.0 698.4,443.5 698.4,445.0 698.5,446.5 698.5,448.0 698.5,449.5 698.6,451.0 698.6,452.5 698.6,454.0 698.7,455.5 698.7,457.0 698.7,458.5 698.8,460.0 698.8,461.5 698.8,463.0 698.8,464.5 698.9,466.0 698.9,467.5 698.9,469.0 699.0,470.5 699.0,472.0 699.0,473.5 699.1,475.0 699.1,476.5 699.1,478.0 699.2,479.5 699.2,481.0 699.2,482.5 699.2,484.0 699.3,485.5 699.3,487.0 699.3,488.5 699.4,490.0 699.4,491.5 699.4,493.0 699.5,494.5 699.5,496.0 699.5,497.5 699.6,499.0 699.6,500.5 699.6,502.0 699.7,503.5 699.7,505.0 699.7,506.5 699.8,508.0 699.8,509.5 699.8,511.0 699.8,512.5 699.9,514.0 699.9,515.5 699.9,517.0 700.0,518.5 700.0,520.0 700.0,521.5 700.0,523.0 700.1,524.5 700.1,526.0 700.1,527.5 700.1,529.0 700.2,530.5 700.2,532.0 700.2,533.5 700.2,535.0 700.3,536.5 700.3,538.0 700.3,539.5 700.3,541.0 700.4,542.5 700.4,544.0 700.4,545.5 700.4,547.0 700.5,548.5 700.5,550.0 700.5,551.5 700.5,553.0 700.5,554.5 700.6,556.0 700.6,557.5 700.6,559.0 700.6,560.5 700.7,562.0 700.7,563.5 700.7,565.0 700.7,566.5 700.8,568.0 700.8,569.5 700.8,571.0 700.8,572.5 700.9,574.0 700.9,575.5 700.9,577.0 700.9,578.5 701.0,580.0 701.0,581.5 701.0,583.0 701.0,584.5 701.1,586.0 701.1,587.5 701.1,589.0 701.1,590.5 701.1,592.0 701.2,593.5 701.2,595.0 701.2,596.5 701.2,598.0 701.3,599.5 701.3,601.0 701.3,602.5 701.3,604.0 701.4,605.5 701.4,607.0 701.4,608.5 701.4,610.0 701.5,611.5 701.5,613.0 701.5,614.5 701.5,616.0 701.6,617.5 701.6,619.0 701.6,620.5 701.6,622.0 701.6,623.5 701.7,625.0 701.7,626.5 701.7,628.0 701.7,629.5 701.8,631.0 701.8,632.5 701.8,634.0 701.8,635.5 701.9,637.0 701.9,638.5 701.9,640.0 701.9,641.5 702.0,643.0 702.0,644.5 702.0,646.0 702.0,647.5 702.1,649.0 702.1,650.5 702.1,652.0 702.1,653.5 702.1,655.0 702.2,656.5 702.2,658.0 702.2,659.5 702.2,661.0 702.3,662.5 702.3,664.0 702.3,665.5 702.3,667.0 702.4,668.5 702.4,670.0 702.4,671.5 702.4,673.0 702.5,674.5 702.5,676.0 702.5,677.5 702.5,679.0 702.6,680.5 702.6,682.0 702.6,683.5 702.6,685.0 702.7,686.5 702.7,688.0 702.7,689.5 702.7,691.0 702.7,692.5 702.8,694.0 702.8,695.5 702.8,697.0 702.8,698.5 702.9,700.0 702.9,701.5 702.9,703.0 702.9,704.5 703.0,706.0 703.0,707.5 703.0,709.0 703.0,710.5 703.1,712.0 703.1,713.5 703.1,715.0 703.1,716.5 703.2,718.0 703.2,719.5 703.2,721.0 703.2,722.5 703.2,724.0 703.3,725.5 703.3,727.0 703.3,728.5 703.3,730.0 703.4,731.5 703.4,733.0 703.4,734.5 703.4,736.0 703.5,737.5 703.5,739.0 703.5,740.5 703.5,742.0 703.6,743.5 703.6,745.0 703.6,746.5 703.6,748.0 703.7,749.5 703.7,751.0 703.7,752.5 703.7,754.0 703.8,755.5 703.8,757.0 703.8,758.5 703.8,760.0 703.8,761.5 703.9,763.0 703.9,764.5 703.9,766.0 703.9,767.5 704.0,769.0 704.0,770.5 704.0,772.0 704.0,773.5 704.1,775.0 704.1,776.5 704.1,778.0 704.1,779.5 704.2,781.0 704.2,782.5 704.2,784.0 704.2,785.5 704.3,787.0 704.3,788.5 704.3,790.0 704.4,791.5 704.4,793.1 704.5,794.6 704.6,796.1 704.7,797.7 704.8,799.2 704.8,800.7 704.9,802.3 705.0,803.8 705.0,805.3 705.1,806.9 705.2,808.4 705.3,809.9 705.3,811.5 705.4,813.0 705.5,814.5 705.6,816.0 705.6,817.6 705.7,819.1 705.8,820.6 705.9,822.2 705.9,823.7 706.0,825.2 706.1,826.8 706.2,828.3 706.2,829.8 706.3,831.4 706.4,832.9 706.6,834.4 706.7,836.0 706.9,837.5 707.0,839.0 707.2,840.5 707.3,842.1 707.5,843.6 707.7,845.1 707.8,846.7 708.0,848.2 708.1,849.7 708.3,851.2 708.4,852.8 708.6,854.3 709.0,855.8 709.4,857.4 709.7,858.9 710.1,860.5 710.5,862.0 711.7,863.1 712.9,864.3 713.5,863.6 714.2,862.5 715.0,861.3 716.1,860.3 717.3,859.6 718.6,859.7 720.2,860.9 722.1,863.0 723.1,864.3 724.2,865.6 725.2,866.8 726.2,868.0 728.2,869.8 730.0,870.3 731.5,869.0 732.2,867.5 732.9,866.1 733.6,864.3 734.2,862.5 734.8,860.8 735.5,859.1 736.7,856.7 737.9,856.1 739.1,858.0 739.7,860.0 740.3,862.0 740.7,863.6 741.1,865.2 741.5,866.9 741.8,868.5 742.2,870.1 742.6,871.7 743.2,873.6 743.8,875.5 745.0,877.1 746.3,876.0 747.0,874.4 747.7,872.8 748.3,870.6 749.0,868.5 749.5,867.0 749.9,865.5 750.4,864.0 751.1,862.2 751.7,860.3 752.9,858.3 754.0,858.2 755.0,859.3 755.9,861.2 756.8,863.4 757.7,865.3 758.6,866.4 759.5,866.6 760.3,866.4 761.1,865.8 762.0,865.3 762.8,865.1 763.6,865.4 764.4,866.6 765.2,868.6 766.0,870.9 766.8,872.9 767.6,874.2 768.6,874.3 769.7,872.7 770.3,871.2 770.9,869.7 771.5,867.8 772.1,866.0 772.8,864.1 773.4,862.2 774.0,860.6 774.6,859.0 775.7,857.1 776.7,856.7 777.5,857.2 778.3,858.4 779.1,859.7 779.9,860.9 780.7,861.4 781.5,861.2 782.4,860.6 783.2,859.7 784.1,858.8 784.9,858.2 785.7,857.9 786.4,858.2 787.1,859.0 787.8,860.0 788.4,860.9 789.2,861.5 790.0,861.4 791.0,860.4 792.0,858.8 793.2,856.7 794.3,854.7 795.4,853.1 796.4,852.1 797.3,852.0 798.1,852.7 798.9,853.6 799.7,854.6 800.5,855.4 801.4,855.7 802.4,855.2 803.5,854.2 804.6,852.9 805.8,851.8 806.9,851.0 807.9,851.0 808.8,852.1 809.6,854.2 810.3,856.7 811.1,859.0 811.9,860.8 812.9,861.4 814.1,860.5 815.4,858.5 816.8,855.9 817.5,854.5 818.3,853.1 819.6,850.8 820.7,849.3 821.6,848.9 822.3,849.3 822.9,850.1 823.5,850.9 824.2,851.5 825.0,851.4 825.9,850.4 826.9,848.7 828.0,846.7 829.1,844.9 830.3,843.7 831.4,843.6 832.5,845.1 833.1,846.6 833.7,848.0 834.3,849.8 834.9,851.6 835.5,853.3 836.1,855.0 837.4,857.6 838.6,858.6 839.8,857.5 841.0,854.8 841.6,853.0 842.2,851.2 842.9,849.4 843.5,847.5 844.2,846.0 844.9,844.5 846.4,842.9 848.1,843.0 850.1,844.3 852.1,846.2 854.2,848.2 856.2,849.9 857.9,850.7 859.4,850.5 860.8,849.7 862.1,848.5 863.3,847.1 864.5,845.9 865.7,845.0 867.0,844.4 868.2,843.9 869.5,843.4 870.7,843.1 871.8,842.9 872.9,842.9 873.8,843.2 874.7,843.9 875.4,844.7 876.2,845.4 877.0,845.8 877.9,845.5 879.0,844.3 880.1,842.4 881.4,840.2 882.6,837.9 883.8,836.1 885.0,835.0 886.1,834.8 887.2,835.3 888.3,836.2 889.4,837.3 890.4,838.1 891.4,838.6 892.2,838.6 892.9,838.3 893.6,837.9 894.3,837.5 895.2,837.2 896.4,837.1 898.0,837.4 899.8,838.0 901.9,838.6 904.0,839.2 906.0,839.5 907.9,839.3 909.5,838.4 910.9,837.0 912.2,835.4 913.6,833.6 915.2,832.0 917.1,830.7 919.4,829.8 921.9,829.0 924.6,828.4 927.4,827.9 930.2,827.5 932.9,827.1 935.4,826.9 938.0,826.8 940.4,826.9 942.9,826.9 945.4,826.8 947.9,826.4 950.4,825.7 953.0,824.6 955.5,823.5 958.1,822.3 960.5,821.3 962.9,820.7 965.2,820.5 967.4,820.6 969.6,820.9 971.7,821.2 973.7,821.4 975.7,821.4 977.6,821.1 979.5,820.6 981.3,820.0 983.0,819.5 984.7,818.9 986.4,818.6 988.0,818.5 989.6,818.5 991.2,818.6 992.7,818.7 994.2,818.7 995.7,818.6 997.2,818.3 998.7,817.7 1000.2,817.2 1001.6,816.6 1003.0,816.1 1004.3,815.7 1005.5,815.5 1006.8,815.5 1007.9,815.5 1009.0,815.5 1009.9,815.6 1010.5,815.6 1011.4,813.8 1012.2,812.0 1012.2,810.4 1012.3,808.9 1012.3,807.3 1012.4,805.7 1012.4,804.1 1012.5,802.6 1012.5,801.0 1012.5,799.4 1012.6,797.9 1012.6,796.3 1012.7,794.7 1012.7,793.1 1012.8,791.6 1012.8,790.0 1012.9,788.5 1013.1,786.9 1013.2,785.4 1013.3,783.8 1013.5,782.3 1013.6,780.8 1013.7,779.2 1013.8,777.7 1014.0,776.2 1014.1,774.6 1014.2,773.1 1014.4,771.5 1014.5,770.0 1014.5,768.5 1014.6,767.0 1014.6,765.5 1014.6,764.0 1014.6,762.5 1014.7,761.0 1014.7,759.5 1014.7,758.0 1014.8,756.5 1014.8,755.0 1014.8,753.5 1014.9,751.9 1014.9,750.4 1014.9,748.9 1014.9,747.4 1015.0,745.9 1015.0,744.4 1015.0,742.9 1015.1,741.4 1015.1,739.9 1015.1,738.4 1015.1,736.9 1015.2,735.4 1015.2,733.9 1015.2,732.4 1015.3,730.9 1015.3,729.4 1015.3,727.9 1015.3,726.4 1015.4,724.9 1015.4,723.4 1015.4,721.9 1015.5,720.4 1015.5,718.8 1015.5,717.3 1015.6,715.8 1015.6,714.3 1015.6,712.8 1015.6,711.3 1015.7,709.8 1015.7,708.3 1015.7,706.8 1015.8,705.3 1015.8,703.8 1015.8,702.3 1015.8,700.8 1015.9,699.3 1015.9,697.8 1015.9,696.3 1016.0,694.8 1016.0,693.3 1016.0,691.8 1016.0,690.3 1016.1,688.8 1016.1,687.3 1016.1,685.8 1016.2,684.2 1016.2,682.7 1016.2,681.2 1016.3,679.7 1016.3,678.2 1016.3,676.7 1016.3,675.2 1016.4,673.7 1016.4,672.2 1016.4,670.7 1016.5,669.2 1016.5,667.7 1016.5,666.2 1016.5,664.7 1016.6,663.2 1016.6,661.7 1016.6,660.2 1016.7,658.7 1016.7,657.2 1016.7,655.7 1016.7,654.2 1016.8,652.7 1016.8,651.2 1016.8,649.6 1016.9,648.1 1016.9,646.6 1016.9,645.1 1017.0,643.6 1017.0,642.1 1017.0,640.6 1017.0,639.1 1017.1,637.6 1017.1,636.1 1017.1,634.6 1017.2,633.1 1017.2,631.6 1017.2,630.1 1017.2,628.6 1017.3,627.1 1017.3,625.6 1017.3,624.1 1017.4,622.6 1017.4,621.1 1017.4,619.6 1017.4,618.1 1017.5,616.5 1017.5,615.0 1017.5,613.5 1017.6,612.0 1017.6,610.5 1017.6,609.0 1017.7,607.5 1017.7,606.0 1017.7,604.5 1017.7,603.0 1017.8,601.5 1017.8,600.0 1017.9,598.5 1017.9,597.0 1018.0,595.5 1018.0,594.0 1018.1,592.5 1018.1,591.0 1018.2,589.5 1018.2,588.0 1018.3,586.5 1018.3,585.0 1018.4,583.5 1018.4,582.0 1018.5,580.5 1018.5,579.0 1018.6,577.5 1018.6,576.0 1018.7,574.5 1018.7,573.0 1018.8,571.5 1018.8,570.0 1018.9,568.5 1018.9,567.0 1019.0,565.5 1019.0,564.0 1019.1,562.5 1019.1,561.0 1019.2,559.5 1019.2,557.9 1019.3,556.4 1019.3,554.9 1019.4,553.4 1019.4,551.9 1019.5,550.4 1019.5,548.9 1019.6,547.4 1019.6,545.9 1019.7,544.4 1019.7,542.9 1019.8,541.4 1019.8,539.9 1019.9,538.4 1019.9,536.9 1020.0,535.4 1020.0,533.9 1020.1,532.4 1020.1,530.9 1020.2,529.4 1020.2,527.9 1020.3,526.4 1020.3,524.9 1020.4,523.4 1020.4,521.9 1020.5,520.4 1020.5,518.9 1020.6,517.4 1020.7,515.9 1020.7,514.4 1020.8,512.8 1020.8,511.3 1020.9,509.8 1020.9,508.3 1021.0,506.7 1021.0,505.2 1021.1,503.7 1021.1,502.2 1021.2,500.6 1021.2,499.1 1021.3,497.6 1021.3,496.1 1021.4,494.6 1021.4,493.0 1021.5,491.5 1021.5,490.0 1021.6,488.5 1021.6,486.9 1021.7,485.4 1021.7,483.9 1021.8,482.4 1021.8,480.8 1021.9,479.3 1021.9,477.8 1022.0,476.3 1022.0,474.8 1022.1,473.2 1022.1,471.7 1022.2,470.2 1022.2,468.7 1022.3,467.1 1022.3,465.6 1022.4,464.1 1022.4,462.6 1022.5,461.0 1022.5,459.5 1022.6,458.0 1022.9,456.5 1023.1,455.0 1023.4,453.5 1023.6,452.0 1023.9,450.5 1024.1,449.0 1024.3,447.5 1024.6,446.0 1024.8,444.5 1025.1,443.0 1025.3,441.5 1025.6,440.0 1026.0,438.6 1026.5,437.1 1027.0,435.7 1027.4,434.2 1027.8,432.8 1028.3,431.4 1028.8,429.9 1029.2,428.5 1029.9,426.9 1030.6,425.3 1031.3,423.8 1032.1,422.2 1032.8,420.6 1033.5,419.0 1034.6,417.6 1035.7,416.2 1036.8,414.8 1037.9,413.4 1039.0,412.0 1040.2,410.7 1041.4,409.3 1042.6,408.0 1043.8,406.6 1045.0,405.3 1046.2,404.3 1047.4,403.3 1048.6,402.3 1049.8,401.3 1051.0,400.3 1052.6,399.8 1054.1,399.4 1055.7,398.9 1057.3,398.4 1058.9,397.9 1060.4,396.9 1062.0,397.0 1063.5,396.7 1065.0,396.5 1066.5,395.8 1068.0,395.6 1069.5,394.9 1071.1,394.6 1072.6,394.3 1074.1,393.8 1075.6,394.2 1077.1,393.6 1078.6,394.1 1080.1,392.9 1081.6,392.9 1083.1,391.7 1084.6,391.3 1086.1,390.9 1087.5,391.1 1089.0,390.9 1090.5,390.9 1092.0,390.1 1093.5,390.3 1095.0,389.7 1096.6,389.8 1098.1,389.0 1099.7,389.1 1101.3,388.8 1102.8,388.9 1104.4,387.8 1105.9,386.8 1107.5,386.3 1109.1,386.4 1110.6,386.5 1112.2,386.3 1113.7,385.9 1115.3,386.5 1116.8,386.6 1118.4,386.6 1119.9,386.5 1121.5,386.6 1123.0,386.8 1124.6,386.1 1126.1,385.5 1127.6,385.1 1129.2,385.0 1130.7,385.4 1132.3,385.8 1133.8,386.0 1135.4,386.1 1136.9,386.0 1138.5,385.5 1140.0,384.7 1141.5,384.4 1143.0,384.4 1144.6,384.8 1146.1,384.8 1147.6,384.6 1149.1,384.4 1150.7,384.4 1152.2,384.7 1153.7,384.8 1155.2,384.9 1156.7,384.7 1158.3,384.5 1159.8,384.3 1161.3,384.9 1162.8,384.9 1164.3,385.2 1165.9,385.0 1167.4,385.6 1168.9,384.9 1170.4,385.0 1172.0,384.5 1173.5,384.6 1175.0,383.9 1176.5,384.1 1178.0,384.2 1179.5,384.2 1181.1,384.4 1182.6,384.2 1184.1,384.0 1185.6,383.8 1187.1,384.3 1188.6,384.9 1190.1,384.4 1191.7,384.5 1193.2,384.4 1194.7,385.2 1196.2,384.5 1197.7,384.5 1199.2,383.9 1200.7,383.8 1202.3,383.5 1203.8,384.0 1205.3,384.3 1206.8,384.3 1208.3,384.3 1209.8,384.7 1211.3,385.3 1212.9,384.8 1214.4,384.5 1215.9,384.5 1217.4,384.6 1218.9,384.4 1220.4,384.3 1221.9,385.0 1223.5,384.9 1225.0,383.9 1226.5,383.0 1228.0,383.1 1229.5,383.9 1231.0,384.6 1232.5,385.0 1234.0,384.9 1235.6,384.8 1237.1,384.7 1238.6,384.9 1240.1,384.8 1241.6,386.0 1243.1,386.3 1244.6,386.3 1246.1,385.3 1247.7,385.0 1249.2,384.9 1250.7,385.1 1252.2,385.0 1253.7,385.9 1255.2,386.1 1256.7,386.1 1258.2,385.6 1259.7,385.4 1261.3,385.7 1262.8,386.1 1264.3,386.9 1265.8,386.8 1267.3,387.3 1268.8,387.1 1270.3,387.4 1271.8,386.6 1273.3,386.2 1274.9,386.5 1276.4,387.6 1277.9,388.1 1279.4,388.2 1280.9,387.8 1282.4,387.7 1283.9,387.4 1285.4,387.9 1287.0,388.2 1288.5,388.4 1290.0,388.1 1291.5,388.2 1293.0,388.5 1294.5,388.4 1296.1,388.9 1297.6,389.0 1299.1,389.4 1300.7,389.5 1302.2,389.9 1303.7,390.0 1305.2,389.8 1306.8,389.3 1308.3,389.3 1309.8,388.6 1311.4,389.4 1312.9,389.2 1314.4,390.2 1316.0,389.7 1317.5,390.1 1319.0,390.0 1320.6,390.4 1322.1,391.1 1323.6,391.8 1325.2,391.9 1326.7,392.2 1328.2,391.6 1329.8,391.8 1331.3,391.7 1332.8,391.9 1334.3,391.8 1335.9,391.9 1337.4,392.2 1338.9,392.5 1340.5,392.5 1342.0,392.3 1343.5,392.5 1345.1,392.3 1346.6,392.4 1348.1,392.7 1349.7,392.5 1351.2,392.6 1352.7,392.4 1354.2,392.8 1355.8,393.9 1357.3,393.0 1358.8,394.0 1360.4,393.8 1361.9,394.9 1363.4,394.5 1365.0,394.2 1366.5,393.8 1368.0,394.2 1369.6,393.8 1371.1,394.1 1372.6,394.2 1374.2,394.3 1375.7,394.4 1377.2,394.2 1378.8,394.2 1380.3,394.8 1381.8,394.9 1383.3,395.0 1384.9,394.7 1386.4,394.4 1387.9,394.8 1389.5,394.9 1391.0,395.0 1392.5,395.5 1394.0,395.3 1395.5,395.8 1397.0,395.6"/>
</g>
<text class="b" text-anchor="end" transform="translate(277.0 270.2) scale(1.000 1.035)">20</text>
<text class="b" text-anchor="end" transform="translate(277.0 407.9) scale(1.000 1.035)">0</text>
<text class="b" transform="translate(189.0 549.6) scale(0.985 1.180)">–</text>
<text class="b" text-anchor="end" transform="translate(277.0 545.6) scale(1.000 1.035)">20</text>
<text class="b" transform="translate(189.0 687.4) scale(0.985 1.180)">–</text>
<text class="b" text-anchor="end" transform="translate(277.0 683.4) scale(1.000 1.035)">40</text>
<text class="b" transform="translate(189.0 825.1) scale(0.985 1.180)">–</text>
<text class="b" text-anchor="end" transform="translate(277.0 821.1) scale(1.000 1.035)">60</text>
<text class="b" transform="translate(189.0 962.9) scale(0.985 1.180)">–</text>
<text class="b" text-anchor="end" transform="translate(277.0 958.9) scale(1.000 1.035)">80</text>
<text class="b" text-anchor="middle" transform="translate(404.2 1024.7) scale(1.000 1.035)">28</text>
<text class="b" text-anchor="middle" transform="translate(562.4 1024.7) scale(1.000 1.035)">29</text>
<text class="b" text-anchor="middle" transform="translate(720.7 1024.7) scale(1.000 1.035)">30</text>
<text class="b" text-anchor="middle" transform="translate(878.9 1024.7) scale(1.000 1.035)">31</text>
<text class="b" text-anchor="middle" transform="translate(1037.1 1024.7) scale(1.000 1.035)">32</text>
<text class="b" text-anchor="middle" transform="translate(1195.4 1024.7) scale(1.000 1.035)">33</text>
<text class="b" text-anchor="middle" transform="translate(1353.6 1024.7) scale(1.000 1.035)">34</text>
<text class="ax" transform="translate(690.8 1093.5) scale(1.020 1.030)">Time (min)</text>
<text class="ax" text-anchor="middle" transform="translate(56.0 585.3) rotate(-90) scale(1.004 1.035)">Photocurrent density</text>
<text class="ax" text-anchor="middle" transform="translate(152.3 577.7) rotate(-90) scale(0.990 1.050)">(nA/cm<tspan font-size="47" dy="-27.4">2</tspan><tspan dy="27.4">)</tspan></text>
<g stroke-width="9.8" stroke-linecap="round" fill="none">
<line x1="629.9" y1="22.5" x2="733.1" y2="22.5" stroke="#a49b14"/>
<line x1="629.9" y1="78.9" x2="733.1" y2="78.9" stroke="#00dd00"/>
<line x1="629.9" y1="149.7" x2="733.1" y2="149.7" stroke="#ff0000"/>
<line x1="629.9" y1="219.4" x2="733.1" y2="219.4" stroke="#0000ff"/>
</g>
<text class="lg" transform="translate(744.6 38.9) scale(1.008 1.045)">SAM/Au</text>
<text class="lg" transform="translate(744.6 94.9) scale(1.008 1.045)">PSI/C<tspan dy="11.2">4</tspan><tspan dy="-11.2">OH SAM/Au</tspan></text>
<text class="lg" transform="translate(744.6 165.6) scale(1.008 1.045)">PSI-LB(DDM)/C<tspan dy="11.2">4</tspan><tspan dy="-11.2">OH SAM/Au</tspan></text>
<text class="lg" transform="translate(744.6 235.5) scale(1.008 1.045)">PSI-LB(TX-100)/C<tspan dy="11.2">4</tspan><tspan dy="-11.2">OH SAM/Au</tspan></text>
<text class="an" transform="translate(603.5 516.8) rotate(90) scale(1.000 1.040)">Light on</text>
<text class="an" transform="translate(1119.7 716.3) rotate(-90) scale(1.005 1.045)">Light off</text>
<g stroke="#000" stroke-width="6.5" fill="none"><line x1="662" y1="517.3" x2="662" y2="692"/><line x1="1057.8" y1="719.9" x2="1057.8" y2="540"/></g>
<path d="M653.6 690.5 L670.4 690.5 L662 721.6 Z" fill="#000" stroke="#000" stroke-width="3.4" stroke-linejoin="round"/>
<path d="M1048.9 541.3 L1066.7 541.3 L1057.8 510.8 Z" fill="#000" stroke="#000" stroke-width="3.4" stroke-linejoin="round"/>
</svg></body></html>
